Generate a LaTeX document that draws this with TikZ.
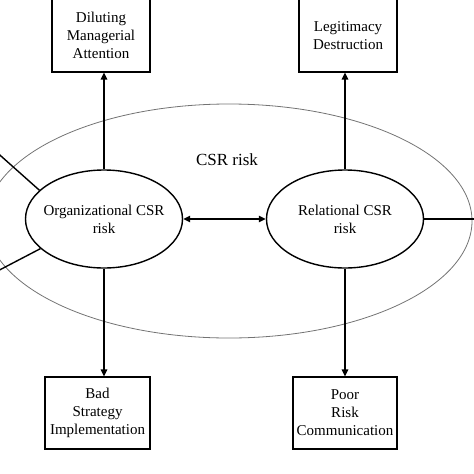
\documentclass[tikz,border=0pt]{standalone}
\usepackage{fontspec}
\setmainfont{Liberation Serif}
\usetikzlibrary{shapes.geometric,arrows.meta}
\begin{document}
\begin{tikzpicture}[x=1pt,y=-1pt,
  every node/.style={font=\fontsize{15}{18}\selectfont, align=center, inner sep=0pt},
  riskell/.style={ellipse, draw=black, line width=1.4pt, minimum width=157pt, minimum height=98pt},
  outbox/.style={rectangle, draw=black, line width=1.2pt},
  conn/.style={draw=black, line width=1.4pt},
  arr/.style={conn, -{Triangle[length=7pt,width=6.5pt]}},
  darr/.style={conn, {Triangle[length=7pt,width=6.5pt]}-{Triangle[length=7pt,width=6.5pt]}}
]
\useasboundingbox (0,0) rectangle (474,474);
% big CSR risk ellipse
\node[ellipse, draw=black!55, line width=0.8pt, minimum width=486pt, minimum height=234pt] (csr) at (229,221) {};
\node[font=\fontsize{17}{20}\selectfont] (csrlabel) at (227,160) {CSR risk};
% inner ellipses
\node[riskell] (org) at (104,219) {};
\node (orgtxt) at (org.center) {Organizational CSR\\risk};
\node[riskell] (rel) at (345,219) {};
\node (reltxt) at (rel.center) {Relational CSR\\risk};
% boxes
\node[outbox, minimum width=98pt, minimum height=73pt] (dil) at (101,35.5) {Diluting\\Managerial\\Attention};
\node[outbox, minimum width=98pt, minimum height=73pt] (leg) at (348,35.5) {Legitimacy\\Destruction};
\node[outbox, minimum width=105pt, minimum height=72pt] (bad) at (97.5,413) {Bad\\Strategy\\Implementation};
\node[outbox, minimum width=104pt, minimum height=72pt] (poor) at (345,413) {Poor\\Risk\\Communication};
% connectors
\draw[arr] (org.north) -- (org.north |- dil.south);
\draw[arr] (rel.north) -- (rel.north |- leg.south);
\draw[arr] (org.south) -- (org.south |- bad.north);
\draw[arr] (rel.south) -- (rel.south |- poor.north);
\draw[darr] (org.east) -- (rel.west);
% free ends
\coordinate (lu) at (-12,144.5);
\coordinate (ll) at (-12,276);
\coordinate (rr) at (480,219);
\draw[conn] (org.156) -- (lu);
\draw[conn] (org.205) -- (ll);
\draw[conn] (rel.east) -- (rr);
\end{tikzpicture}
\end{document}
